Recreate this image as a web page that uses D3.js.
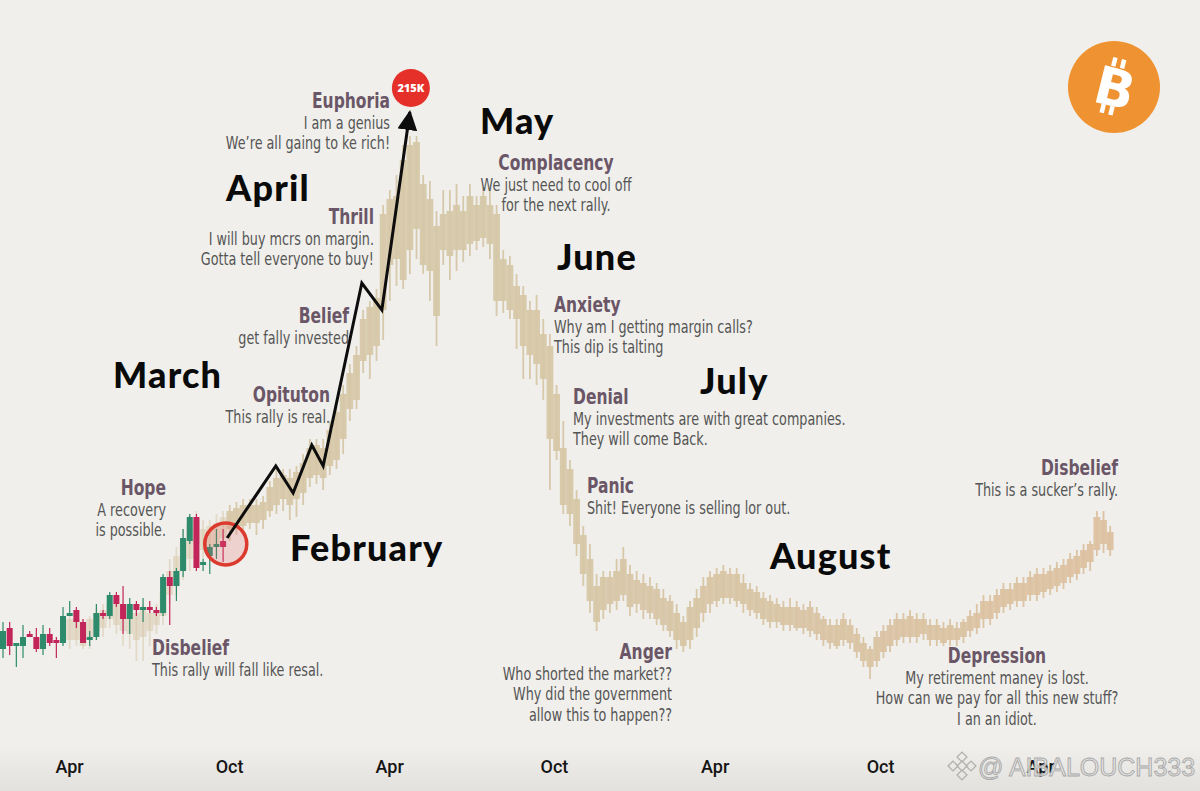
<!DOCTYPE html>
<html><head><meta charset="utf-8">
<script src="https://cdn.jsdelivr.net/npm/d3@7"></script>
<style>html,body{margin:0;padding:0;background:#f0efeb;}svg{display:block}</style>
</head><body>
<svg id="c" width="1200" height="791"></svg>
<script>
// ---------------- DATA ----------------
// weekly candles [open, high, low, close] in K USD
const colorCandles = [
[36,45,33,42],[43,45,34,37],[37,38,30,38],[37,44,33,40],[41,42,40,40],[40,43,35,36],
[36,44,34,41],[41,43,37,38],[39,40,33,38],[38,50,37,47],[47,52,47,48],[49,50,43,45],
[45,46,38,38],[39,42,37,40],[40,51,39,48],[48,49,46,47],[47,55,46,54],[54,55,50,51],
[51,57,41,46],[46,53,41,51],[51,52,47,49],[49,53,45,50],[50,52,48,49],[49,50,47,48],
[48,61,47,60],[60,62,44,57],[57,63,52,62],[62,76,60,73],[72,81,71,80],[80,81,62,63],
[64,66,62,65],[67,71,61,70],[70,76,66,71],[72,76,65,70]
];
const beigeStart = 10;
const beigeCandles = [
[39,48,36,46],[39,47,37,46],[44,46,36,37],[39,47,36,46],[42,50,39,48],[43,51,40,49],
[46,52,43,51],[51,53,41,44],[51,52,37,42],[41,51,36,49],[48,51,32,39],[40,51,32,49],
[42,50,37,48],[44,51,41,49],[47,57,44,55],[54,66,51,62],[57,70,54,67],[62,76,59,72],
[66,81,62,77],[79,82,66,71],[69,79,66,76],[70,79,66,77],[71,81,67,78],[73,82,70,80],
[76,84,72,82],[76,85,74,83],[77,86,75,84],[78,86,76,84],[84,86,74,78],[79,87,76,85],
[82,92,80,90],[84,96,81,93],[86,96,82,94],[93,96,79,84],[86,97,80,95],[88,101,84,98],
[93,106,90,103],[94,106,91,104],[103,106,89,93],[97,112,94,109],[99,117,96,115],[106,124,101,121],
[116,131,112,128],[119,137,116,134],[132,149,128,146],[150,152,126,134],[137,156,132,153],[149,184,139,181],
[164,189,152,186],[166,194,157,187],[159,204,156,199],[169,207,161,204],[205,207,166,176],[191,194,161,164],
[186,192,152,162],[177,182,137,147],[169,189,164,181],[182,189,159,167],[169,191,162,184],[182,187,165,169],
[171,191,167,187],[184,187,169,172],[173,190,170,187],[184,189,166,171],[181,184,147,152],[166,169,148,152],
[164,167,146,149],[157,161,136,146],[154,157,126,137],[149,152,126,134],[149,154,124,131],[141,146,119,126],
[137,141,89,106],[121,124,99,102],[103,112,81,84],[96,99,77,81],[86,89,67,71],[74,77,57,61],
[66,71,48,52],[57,61,42,45],[49,62,46,60],[60,62,48,51],[52,66,49,62],[54,70,52,66],
[61,64,47,50],[59,62,48,51],[58,61,46,49],[57,60,46,48],[56,58,44,46],[53,56,42,44],
[52,54,40,42],[48,51,36,39],[45,47,35,37],[39,52,36,50],[43,56,40,53],[48,60,45,57],
[51,62,48,60],[52,63,50,61],[53,64,51,62],[61,63,51,53],[52,63,50,61],[58,61,48,51],
[56,58,47,49],[55,57,46,48],[53,55,44,46],[52,54,43,45],[45,53,43,51],[50,52,42,44],
[44,53,42,50],[50,52,42,43],[49,51,41,43],[42,52,40,50],[48,50,39,41],[46,47,37,39],
[44,46,36,38],[44,46,36,37],[39,48,37,46],[44,46,36,38],[41,43,33,35],[38,40,30,32],
[36,37,26,30],[32,42,30,40],[35,44,33,42],[37,46,35,44],[39,48,37,46],[46,48,38,40],
[40,49,38,47],[46,48,38,40],[41,48,39,46],[44,46,37,39],[39,46,37,44],[43,45,37,38],
[39,46,37,44],[43,45,37,39],[40,46,38,45],[42,49,40,47],[43,51,41,48],[46,54,43,52],
[52,54,44,46],[48,56,46,54],[50,58,48,56],[56,58,49,51],[52,60,50,58],[58,60,50,52],
[54,62,52,60],[54,63,52,61],[61,63,53,55],[56,64,54,62],[57,65,55,63],[58,66,56,64],
[60,68,58,66],[61,69,59,67],[63,71,61,69],[65,72,62,71],[69,82,67,80],[79,82,68,71],
[75,77,67,69]
];
const tickLabels = ["Apr","Oct","Apr","Oct","Apr","Oct","Apr"];
const tickIndex  = [9.9, 33.9, 57.9, 82.6, 106.7, 131.5, 155.5];
// hand-drawn rally path (week index, price K)
const arrowIndex = [33.6, 40.9, 43.5, 46.3, 48.0, 53.8, 56.8, 61.0];
const arrowPrice = [73, 97, 88, 104, 97, 158, 149, 215];
const peakLabel = "215K";
const startMark = {index: 33.4, price: 71};
const monthNames = ["March","April","May","June","July","August","February"];
const phases = [
 {title:"Euphoria", lines:["I am a genius","We’re all gaing to ke rich!"]},
 {title:"Thrill", lines:["I will buy mcrs on margin.","Gotta tell everyone to buy!"]},
 {title:"Belief", lines:["get fally invested"]},
 {title:"Opituton", lines:["This rally is real."]},
 {title:"Hope", lines:["A recovery","is possible."]},
 {title:"Disbelief", lines:["This rally will fall like resal."]},
 {title:"Complacency", lines:["We just need to cool off","for the next rally."]},
 {title:"Anxiety", lines:["Why am I getting margin calls?","This dip is talting"]},
 {title:"Denial", lines:["My investments are with great companies.","They will come Back."]},
 {title:"Panic", lines:["Shit! Everyone is selling lor out."]},
 {title:"Anger", lines:["Who shorted the market??","Why did the government","allow this to happen??"]},
 {title:"Depression", lines:["My retirement maney is lost.","How can we pay for all this new stuff?","I an an idiot."]},
 {title:"Disbelief", lines:["This is a sucker’s rally."]}
];
const watermark = "@ AIBALOUCH333";

// ---------------- LAYOUT ----------------
const monthPos = [[113,388],[226,201],[480,134],[557,270],[700,394],[770,569],[290,561]];
const phasePos = [
 [390,108,"end"],[374,224,"end"],[349,323,"end"],[330,402,"end"],[166,495,"end"],
 [152,655,"start"],[556,170,"middle"],[554,312,"start"],[573,404,"start"],[587,493,"start"],
 [672,659,"end"],[997,663,"middle"],[1118,475,"end"]
];

const W = 1200, H = 791;
const svg = d3.select("#c");
const x = d3.scaleLinear().domain([0,166]).range([3, 1110.2]);
const y = d3.scaleLinear().domain([0,215]).range([757, 112]);

// background
const defs = svg.append("defs");
const g1 = defs.append("linearGradient").attr("id","bot").attr("x1",0).attr("x2",0).attr("y1",0).attr("y2",1);
g1.append("stop").attr("offset","0%").attr("stop-color","#000").attr("stop-opacity",0);
g1.append("stop").attr("offset","100%").attr("stop-color","#000").attr("stop-opacity",0.06);
svg.append("rect").attr("width",W).attr("height",H).attr("fill","#f0efeb");
svg.append("rect").attr("y",745).attr("width",W).attr("height",46).attr("fill","url(#bot)");

// beige candles
const beigeCol = d3.scaleLinear().domain([beigeStart,70,166]).range(["#d8c6a8","#d5c8a8","#dcc1a0"]);
const bg = svg.append("g");
beigeCandles.forEach((d,k)=>{
  const i = k + beigeStart;
  const cx = x(i), col = beigeCol(i), op = i < 34 ? 0.5 : 0.95;
  bg.append("line").attr("x1",cx).attr("x2",cx).attr("y1",y(d[1])).attr("y2",y(d[2]))
    .attr("stroke",col).attr("stroke-width",1.8).attr("opacity",op);
  const top = y(Math.max(d[0],d[3])), bot = y(Math.min(d[0],d[3]));
  bg.append("rect").attr("x",cx-3.4).attr("width",6.8).attr("y",top).attr("height",Math.max(2,bot-top))
    .attr("fill",col).attr("opacity",op);
});

// coloured candles
const cg = svg.append("g");
colorCandles.forEach((d,i)=>{
  const cx = x(i), up = d[3] >= d[0];
  const col = up ? "#2d8a6b" : "#c2255a";
  cg.append("line").attr("x1",cx).attr("x2",cx).attr("y1",y(d[1])).attr("y2",y(d[2]))
    .attr("stroke",col).attr("stroke-width",1.2);
  const top = y(Math.max(d[0],d[3])), bot = y(Math.min(d[0],d[3]));
  cg.append("rect").attr("x",cx-3).attr("width",6).attr("y",top).attr("height",Math.max(2.5,bot-top))
    .attr("fill",col);
});

// start marker circle
svg.append("circle").attr("cx",x(startMark.index)).attr("cy",y(startMark.price)).attr("r",21)
  .attr("fill","#e36a6a").attr("fill-opacity",0.22).attr("stroke","#dc3a2e").attr("stroke-width",3.5);

// arrow
defs.append("marker").attr("id","ah").attr("markerUnits","userSpaceOnUse")
  .attr("viewBox","0 0 20 20").attr("refX",18).attr("refY",10)
  .attr("markerWidth",20).attr("markerHeight",20).attr("orient","auto")
  .append("path").attr("d","M0,0 L20,10 L0,20 Z").attr("fill","#0d0d0d");
const pts = arrowIndex.map((v,i)=>[x(v), y(arrowPrice[i])]);
svg.append("path").attr("d", d3.line()(pts)).attr("fill","none").attr("stroke","#0d0d0d")
  .attr("stroke-width",3).attr("stroke-linejoin","miter").attr("marker-end","url(#ah)");

// peak badge
const bx = x(arrowIndex[arrowIndex.length-1]) + 1, by = y(arrowPrice[arrowPrice.length-1]) - 24;
svg.append("circle").attr("cx",bx).attr("cy",by).attr("r",19).attr("fill","#e5302a");
svg.append("text").attr("x",bx).attr("y",by+4).attr("text-anchor","middle")
  .attr("font-family","'Open Sans', Roboto, sans-serif").attr("font-weight",800).attr("font-size",11)
  .attr("fill","#fff").text(peakLabel);

// month labels
monthNames.forEach((m,i)=>{
  svg.append("text").attr("x",monthPos[i][0]).attr("y",monthPos[i][1])
    .attr("font-family","Lato, 'Open Sans', sans-serif").attr("font-weight",900).attr("font-size",36)
    .attr("letter-spacing",1.2).attr("fill","#0a0a0a").text(m);
});

// phase annotations (horizontally condensed)
const fam = "'DejaVu Sans','Noto Sans',sans-serif";
phases.forEach((p,i)=>{
  const [px,py,anc] = phasePos[i];
  svg.append("g").attr("transform",`translate(${px},0) scale(0.74,1)`)
    .append("text").attr("text-anchor",anc).attr("font-family",fam)
    .attr("x",0).attr("y",py).attr("font-size",21).attr("font-weight",700)
    .attr("fill","#6a5667").text(p.title);
  const t = svg.append("g").attr("transform",`translate(${px},0) scale(0.71,1)`)
    .append("text").attr("text-anchor",anc).attr("font-family",fam)
    .attr("font-size",18).attr("fill","#555555");
  p.lines.forEach((l,j)=>{
    t.append("tspan").attr("x",0).attr("y",py+21+j*20.5).text(l);
  });
});

// x axis
const ax = svg.append("g").attr("transform","translate(0,760)")
  .call(d3.axisBottom(x).tickValues(tickIndex).tickFormat((d,i)=>tickLabels[i]).tickSize(0));
ax.select(".domain").remove();
ax.selectAll("text").attr("font-family","Roboto, 'Liberation Sans', sans-serif").attr("font-weight",500)
  .attr("font-size",18).attr("fill","#151515").attr("dy","0.55em");

// watermark (overlaps last tick label, as in the original)
const wm = svg.append("g").attr("transform","translate(962,766)");
[[0,-9],[-9,0],[9,0],[0,9],[0,0]].forEach(([dx,dy])=>{
  wm.append("rect").attr("x",dx-3.5).attr("y",dy-3.5).attr("width",7).attr("height",7)
    .attr("transform",`rotate(45,${dx},${dy})`).attr("fill","none").attr("stroke","#b0b0b0").attr("stroke-width",1.3);
});
svg.append("text").attr("x",978).attr("y",776).attr("font-family","'Liberation Sans', Arial, sans-serif")
  .attr("font-size",25).attr("fill","#e4e4e2").attr("fill-opacity",0.85).attr("stroke","#a9a9a9")
  .attr("stroke-width",0.9).text(watermark);

// bitcoin logo
const btc = svg.append("g").attr("transform","translate(1114,87)");
btc.append("circle").attr("r",46).attr("fill","#ef9231");
const bi = btc.append("g").attr("transform","rotate(14)");
bi.append("text").attr("x",1).attr("y",19).attr("text-anchor","middle")
  .attr("font-family","'DejaVu Sans', sans-serif").attr("font-weight",700).attr("font-size",52)
  .attr("fill","#fff").text("B");
[[-8,-29],[1,-29],[-8,19],[1,19]].forEach(([dx,dy])=>{
  bi.append("rect").attr("x",dx).attr("y",dy).attr("width",4.5).attr("height",9).attr("fill","#fff");
});
</script>
</body></html>
